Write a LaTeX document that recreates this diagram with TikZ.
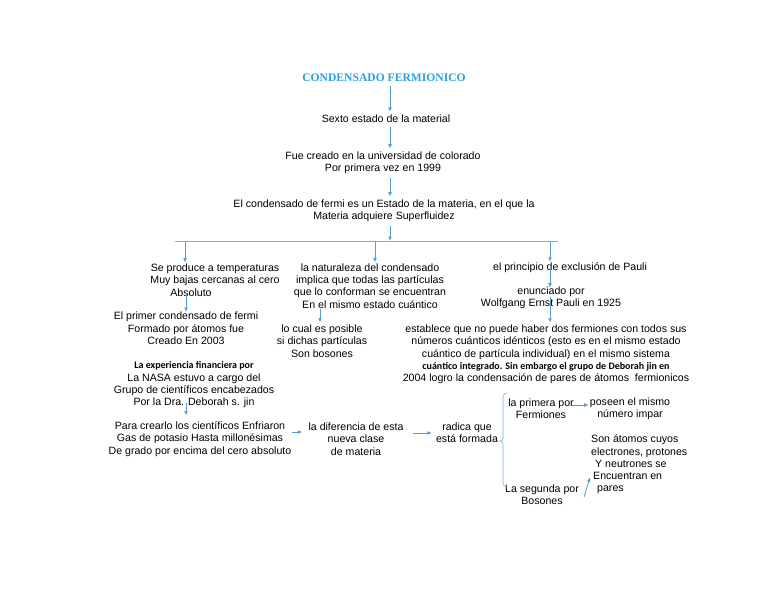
\documentclass[tikz,border=0pt]{standalone}
\usepackage{fontspec}
\setmainfont{Liberation Sans}
\newfontfamily\smallfnt{Carlito}
\newfontfamily\titlefnt{Liberation Serif}
\usepackage{tikz}
\usetikzlibrary{positioning,arrows.meta}
\definecolor{arrblue}{RGB}{91,155,213}
\definecolor{lineblue}{RGB}{125,175,222}
\definecolor{titblue}{RGB}{40,160,230}
\newcommand\smalltxt{\smallfnt\bfseries\fontsize{10}{12.3}\selectfont}

\begin{document}
\begin{tikzpicture}
            [x=1pt,y=-1pt,every node/.style={align=center, inner sep=0pt, font=\fontsize{10.6}{12.3}\selectfont},
             arr/.style={draw=arrblue, line width=0.8pt, -{Latex[length=4.5pt,width=3.8pt]}},
             bus/.style={draw=lineblue, line width=0.8pt}]
          \useasboundingbox (0,0) rectangle (768,594);

          % main chain
          \node[font=\titlefnt\bfseries\fontsize{11.6}{13}\selectfont, text=titblue] (tit) at (384,78) {CONDENSADO FERMIONICO};
          \node (sexto) at (386,119) {Sexto estado de la material};
          \node (creado) at (383,163) {Fue creado en la universidad de colorado\\ Por primera vez en 1999};
          \node (estado) at (384,211) {El condensado de fermi es un Estado de la materia, en el que la\\ Materia adquiere Superfluidez};

          % left branch
          \node (temp) at (215,280) {Se produce a temperaturas\\ Muy bajas cercanas al cero\\ Absoluto\hspace*{48pt}};
          \node (primer) at (186,328.5) {El primer condensado de fermi\\ Formado por átomos fue\\ Creado En 2003};
          \node (nasa) at (194,385) {{\smalltxt La experiencia financiera por}\\ La NASA estuvo a cargo del\\ Grupo de científicos encabezados\\ Por la Dra. Deborah s. jin};
          \node (crear) at (200,439) {Para crearlo los científicos Enfriaron\\ Gas de potasio Hasta millonésimas\\ De grado por encima del cero absoluto};
          \node (difer) at (356,439) {la diferencia de esta\\ nueva clase\\ de materia};
          \node (radica) at (467,433) {radica que\\ está formada};
          \node (prim) at (541,409) {la primera por\\ Fermiones};
          \node (poseen) at (630,409) {poseen el mismo\\ número impar};
          \node[anchor=west, align=left] (atom) at (591,464.5) {Son átomos cuyos\\ electrones, protones\\ \hspace*{4pt}Y neutrones se\\ \hspace*{2pt}Encuentran en\\ \hspace*{6pt}pares};
          \node (segun) at (542,495) {La segunda por\\ Bosones};

          % middle branch
          \node (natur) at (370,286) {la naturaleza del condensado\\ implica que todas las partículas\\ que lo conforman se encuentran\\ En el mismo estado cuántico};
          \node (cual) at (322,341) {lo cual es posible\\ si dichas partículas\\ Son bosones};

          % right branch
          \node (pauli) at (570,268) {el principio de exclusión de Pauli};
          \node (enun) at (551,298) {enunciado por\\ Wolfgang Ernst Pauli en 1925};
          \node (estab) at (546,354.5) {establece que no puede haber dos fermiones con todos sus\\ números cuánticos idénticos (esto es en el mismo estado\\ cuántico de partícula individual) en el mismo sistema\\ {\smalltxt cuántico integrado. Sin embargo el grupo de Deborah jin en}\\ 2004 logro la condensación de pares de átomos\ \ fermionicos};

          \coordinate (c1) at (390,0);
          \coordinate (c2) at (186,0);
          \coordinate (c3) at (320,0);
          \coordinate (c4) at (550,0);
          \coordinate (bl) at (175,241);
          \coordinate (br) at (558,241);
          \coordinate (d1) at (185,241);
          \coordinate (d2) at (375,241);
          \coordinate (d3) at (550,241);

          \foreach \from/\to in {tit/sexto, sexto/creado, creado/estado}
            \draw[arr, shorten <=4pt, shorten >=3pt] (\from.south -| c1) -- (\to.north -| c1);
          \draw[arr, shorten <=4pt] (estado.south -| c1) -- (c1 |- bl);
          \draw[bus] (bl) -- (br);
          \foreach \d/\to in {d1/temp, d2/natur, d3/pauli}
            \draw[arr, shorten >=1pt] (\d) -- (\to.north -| \d);

          \foreach \from/\to/\c/\s/\e in {temp/primer/c2/-3/0, natur/cual/c3/0/2, pauli/enun/c4/-4/-1,
                                          enun/estab/c4/-12/2, nasa/crear/c2/-5/6}
            \draw[arr, shorten <=\s pt, shorten >=\e pt] (\from.south -| \c) -- (\to.north -| \c);

          \draw[arr, shorten >=6pt] ([yshift=7pt]crear.east) -- ([yshift=7pt]difer.west);
          \draw[arr, shorten <=9pt, shorten >=4pt] (difer.east |- radica.west) -- (radica.west);
          \draw[arr, shorten <=-2pt, shorten >=1pt] ([yshift=4pt]prim.east) -- ([yshift=4pt]poseen.west);
          \draw[arr] ([shift={(5,2)}]segun.east) -- ([shift={(-1,-17)}]atom.south west);

          % brace
          \draw[bus, line width=0.6pt] (507,393) to[out=180,in=90] (503,397) -- (503,438) to[out=-90,in=0] (500,441)
            to[out=0,in=90] (503,444) -- (503,483) to[out=-90,in=180] (507,487);
        \end{tikzpicture}
\end{document}
